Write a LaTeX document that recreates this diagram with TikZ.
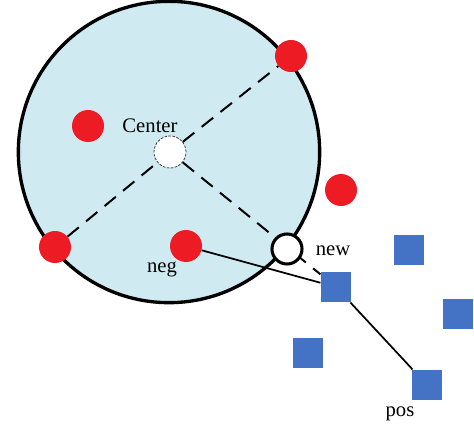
\documentclass[tikz,border=0pt]{standalone}
\usepackage{fontspec}
\setmainfont{Liberation Serif}
\usepackage{tikz}
\usetikzlibrary{positioning}
\definecolor{ballblue}{RGB}{207,234,241}
\definecolor{dotred}{RGB}{237,28,36}
\definecolor{sqblue}{RGB}{68,114,196}

\begin{document}
\begin{tikzpicture}[x=0.75pt,y=-0.75pt,
        reddot/.style={circle,fill=dotred,inner sep=0pt,minimum size=24pt},
        bluesq/.style={rectangle,fill=sqblue,inner sep=0pt,minimum size=23pt},
        dashline/.style={line width=1.5pt,dash pattern=on 11pt off 7pt},
        lbl/.style={anchor=base,font=\fontsize{15.5}{18}\selectfont}]
        \useasboundingbox (0,0) rectangle (474,445);
        % the ball
        \node[circle,draw,line width=2.5pt,fill=ballblue,
            inner sep=0pt,minimum size=226pt] (ball) at (169,152) {};
        % points
        \node[reddot] (tr) at (291,56) {};
        \node[reddot] (bl) at (55,247) {};
        \node[reddot] (in) at (88,126) {};
        \node[reddot] (out) at (341,190) {};
        \node[reddot] (neg) at (186,246) {};
        \node[circle,draw=gray!50!black,dash pattern=on 2pt off 1pt,line width=0.6pt,
            fill=white,inner sep=0pt,minimum size=24pt] (cen) at (170,152) {};
        \node[bluesq] (sqa) at (336,287) {};
        \node[bluesq] (sqb) at (409,250) {};
        \node[bluesq] (sqc) at (458,314) {};
        \node[bluesq] (sqd) at (308,353) {};
        \node[bluesq] (pos) at (427,385) {};
        % lines
        \draw[dashline] (bl) -- (cen);
        \draw[dashline] (cen) -- (tr);
        \draw[dashline] (cen) -- (sqa);
        \draw[line width=1.3pt] (neg) -- (sqa);
        \draw[line width=1.3pt] (sqa) -- (pos);
        \node[circle,draw,line width=2.3pt,fill=white,
            inner sep=0pt,minimum size=22.5pt] (new) at (287,249) {};
        % labels
        \node[lbl] (cenlbl) at (150,133) {Center};
        \node[lbl] (neglbl) at (162,272) {neg};
        \node[lbl] (newlbl) at (333,255) {new};
        \node[lbl] (poslbl) at (400,416) {pos};
    \end{tikzpicture}
\end{document}
